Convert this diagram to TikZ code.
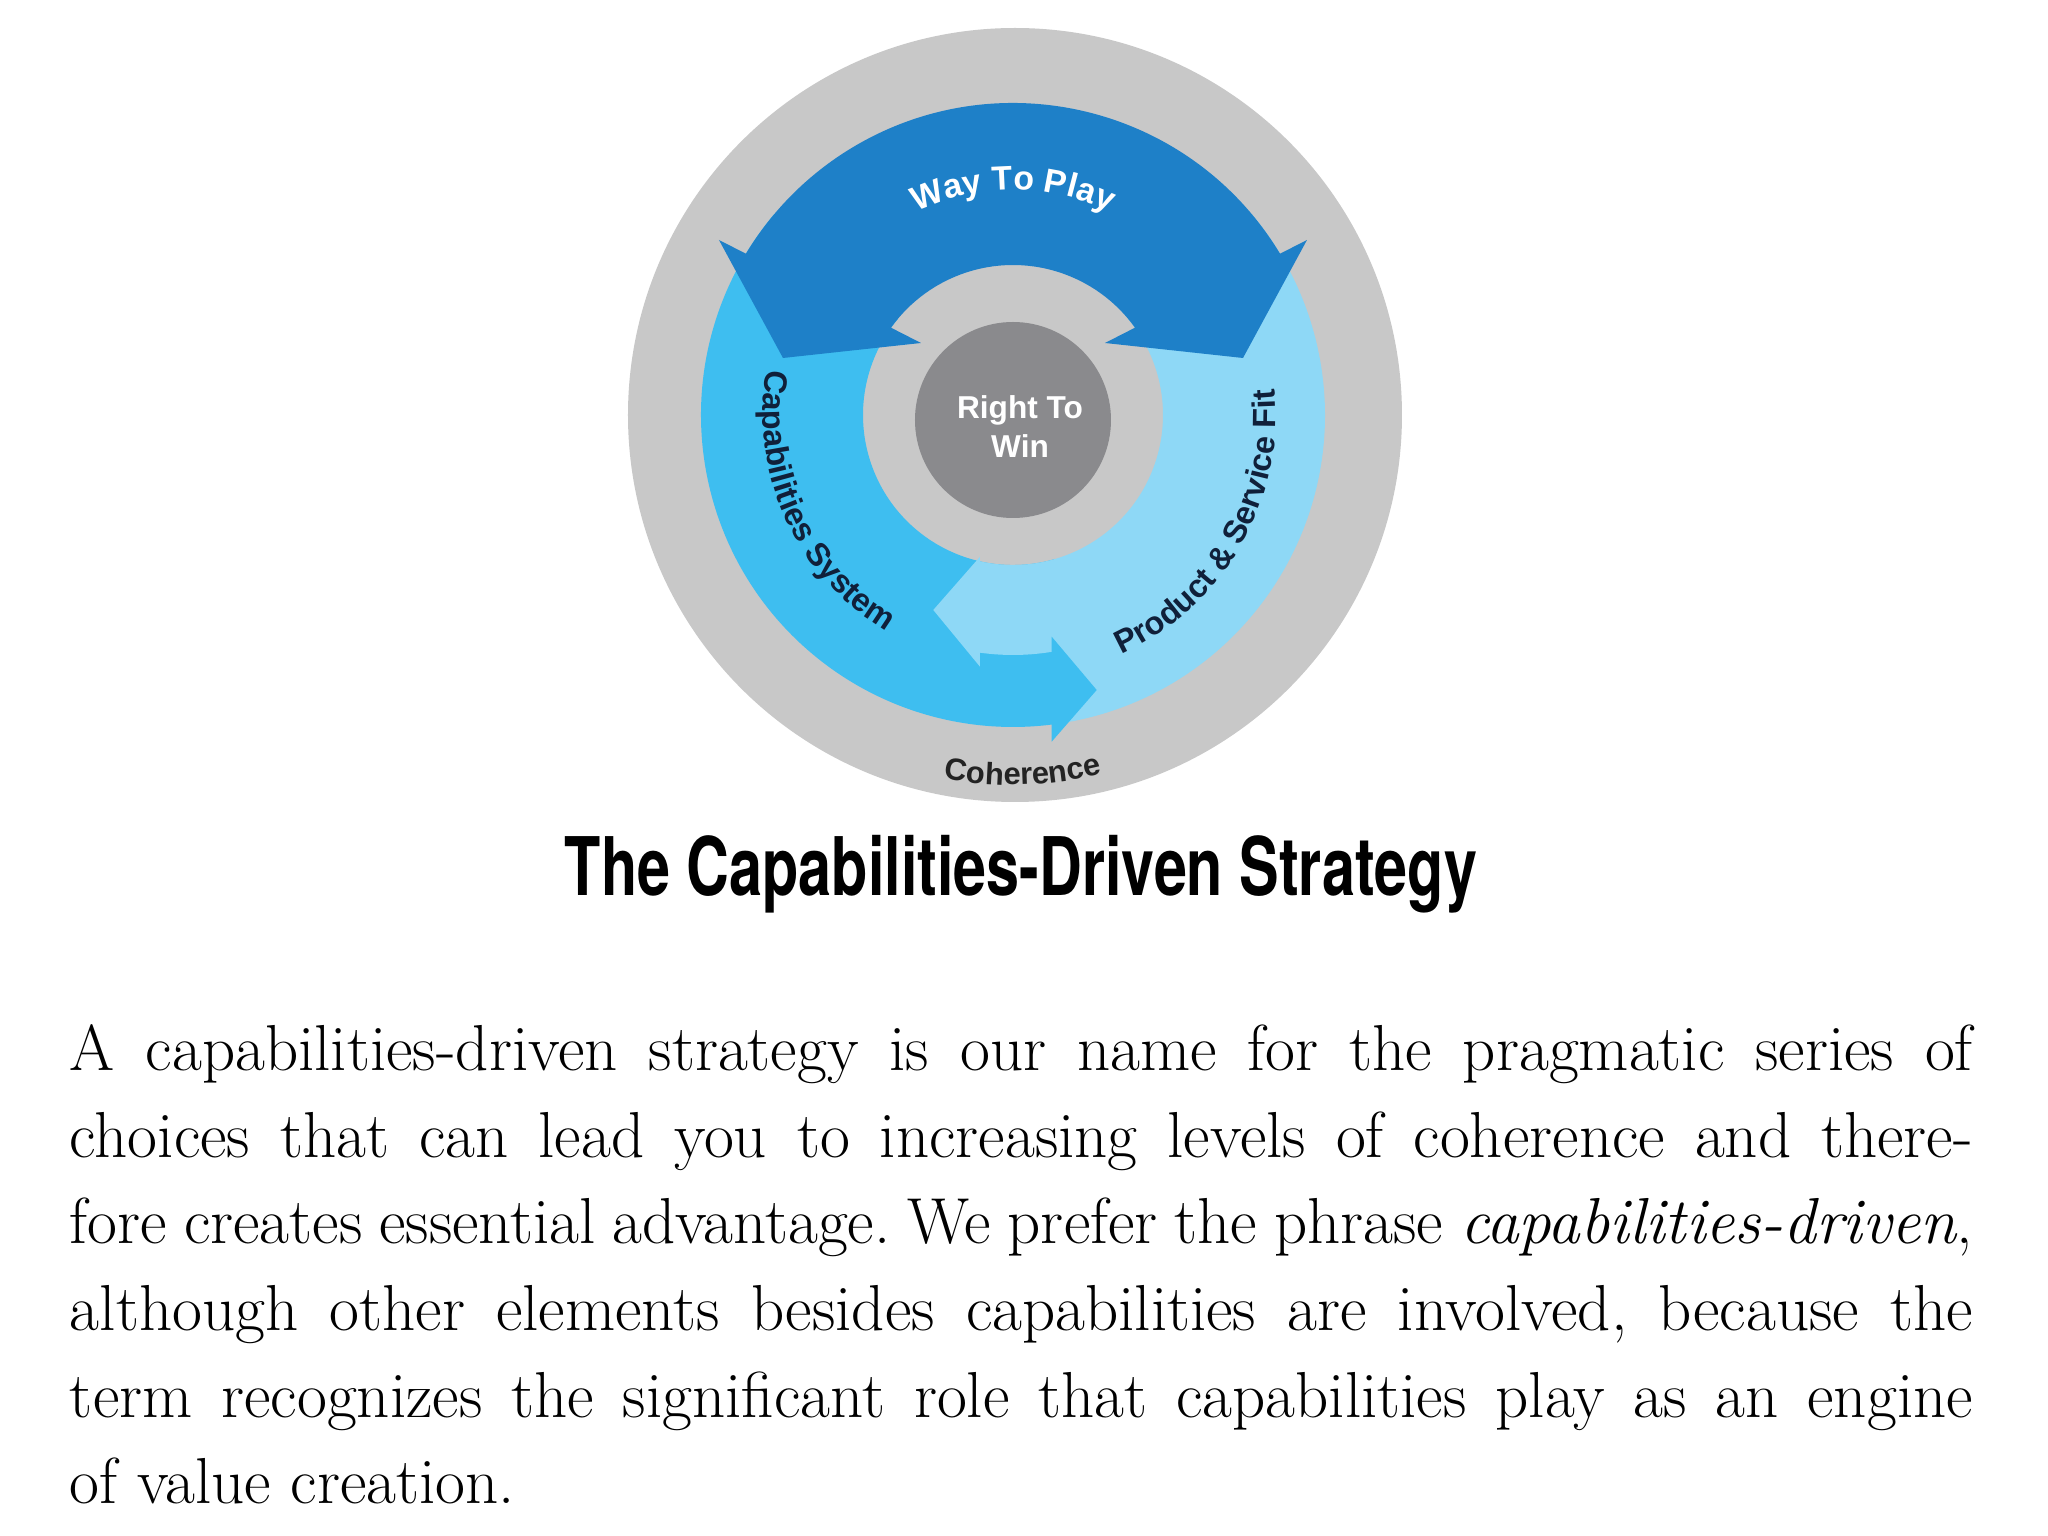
\documentclass[tikz,border=0pt]{standalone}
\usepackage{fontspec}
\usepackage{graphicx}
\usetikzlibrary{decorations.text}
\newfontfamily\lsans{Liberation Sans}
\newfontfamily\heros{TeX Gyre Heros}
\definecolor{ringgray}{RGB}{200,200,200}
\definecolor{coregray}{RGB}{138,138,141}
\definecolor{wayblue}{RGB}{30,128,200}
\definecolor{capblue}{RGB}{62,190,240}
\definecolor{prodblue}{RGB}{142,216,246}
\definecolor{navy}{RGB}{16,32,58}
\definecolor{cohtext}{RGB}{35,35,35}
\frenchspacing
\begin{document}
\begin{tikzpicture}[
  bodyline/.style={anchor=base west, inner sep=0pt, outer sep=0pt, font=\fontsize{18.5}{24}\selectfont},
  arclabel/.style={decorate, decoration={text along path, text align=center, text={#1}}}
]
\useasboundingbox (-10.13,-11.21) rectangle (10.35,4.15);
\fill[white] (-10.13,-11.21) rectangle (10.35,4.15);

% outer grey disc
\fill[ringgray] (0.02,0) circle[radius=3.87cm];

% Capabilities System band (body)
\fill[capblue] (140:3.12) arc[start angle=140, end angle=277.74, radius=3.12cm]
  -- (286.26:1.50) arc[start angle=286.26, end angle=140, radius=1.50cm] -- cycle;

% Product & Service Fit band with its head
\fill[prodblue] (277.74:3.12) arc[start angle=277.74, end angle=400, radius=3.12cm]
  -- (400:1.50) arc[start angle=400, end angle=257.29, radius=1.50cm]
  -- (-0.33,-1.417) -- (-0.797,-1.95) -- (-0.33,-2.517) -- (-0.33,-2.377)
  arc[start angle=262.1, end angle=280.08, radius=2.40cm]
  -- (0.42,-3.092) -- cycle;

% Capabilities System head
\fill[capblue] (0.387,-3.267) -- (0.837,-2.75) -- (0.387,-2.217) -- cycle;

% Way To Play double arrow
\fill[wayblue] (144.41:1.50) arc[start angle=144.41, end angle=35.59, radius=1.50cm]
  -- (0.92,0.72) -- (2.30,0.57) -- (2.94,1.75)
  -- (31.13:3.12) arc[start angle=31.13, end angle=148.87, radius=3.12cm]
  -- (-2.94,1.75) -- (-2.30,0.57) -- (-0.92,0.72) -- cycle;

% centre
\node[circle, fill=coregray, minimum size=1.96cm, inner sep=0pt] (core) at (0,-0.05) {};
\node[align=center, inner sep=0pt, text=white, font=\lsans\bfseries\fontsize{9}{11.1}\selectfont] (rtw) at (0.07,-0.12) {Right To\\Win};

% curved labels
\path[arclabel={|\lsans\bfseries\fontsize{9.6}{11}\selectfont\color{white}|Way To Play}]
  (150:2.25) arc[start angle=150, end angle=30, radius=2.25cm];
\path[arclabel={|\lsans\bfseries\fontsize{9.2}{11}\selectfont\color{navy}|Capabilities System}]
  (154.6:2.50) arc[start angle=154.6, end angle=254.6, radius=2.50cm];
\path[arclabel={|\lsans\bfseries\fontsize{9.2}{11}\selectfont\color{navy}|Product {\&} Service Fit}]
  (280:2.63) arc[start angle=280, end angle=380, radius=2.63cm];
\path[arclabel={|\lsans\bfseries\fontsize{8.8}{11}\selectfont\color{cohtext}|Coherence}]
  (250:3.70) arc[start angle=250, end angle=293.2, radius=3.70cm];

% title
\node[anchor=base, inner sep=0pt] (title) at (0.08,-4.81)
  {\resizebox{9.12cm}{\height}{\heros\bfseries\fontsize{23}{26}\selectfont The Capabilities-Driven Strategy}};

% body text
\node[bodyline] (l1) at (-9.43,-6.557) {\makebox[19.03cm][s]{A capabilities-driven strategy is our name for the pragmatic series of}};
\node[bodyline] (l2) at (-9.43,-7.424) {\makebox[19.03cm][s]{choices that can lead you to increasing levels of coherence and there-}};
\node[bodyline] (l3) at (-9.43,-8.290) {\makebox[19.03cm][s]{fore creates essential advantage. We prefer the phrase \textit{capabilities-driven},}};
\node[bodyline] (l4) at (-9.43,-9.157) {\makebox[19.03cm][s]{although other elements besides capabilities are involved, because the}};
\node[bodyline] (l5) at (-9.43,-10.023) {\makebox[19.03cm][s]{term recognizes the significant role that capabilities play as an engine}};
\node[bodyline] (l6) at (-9.43,-10.890) {of value creation.};
\end{tikzpicture}
\end{document}
